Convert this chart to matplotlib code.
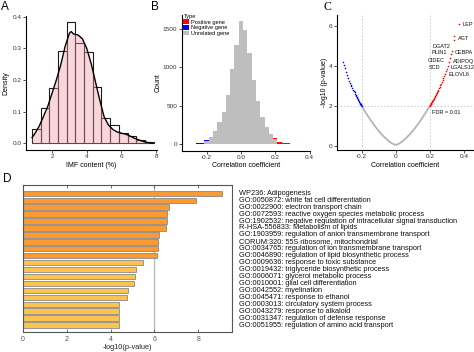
import matplotlib
matplotlib.use("Agg")
import matplotlib.pyplot as plt
from matplotlib.patches import Patch
import numpy as np

plt.rcParams['font.family'] = ['Liberation Sans', 'DejaVu Sans']

# ---------------- Panel A data ----------------
a_edges = [0.85, 1.35, 1.85, 2.35, 2.85, 3.35, 3.85, 4.35, 4.85, 5.35, 5.85, 6.35, 6.85, 7.35, 7.85]
a_density = [0.044, 0.113, 0.174, 0.293, 0.382, 0.316, 0.287, 0.179, 0.079, 0.058, 0.034, 0.023, 0.011, 0.004]
a_curve_x = [0.85, 1.0, 1.25, 1.5, 1.75, 2.0, 2.25, 2.5, 2.75, 3.0, 3.1, 3.25, 3.5, 3.75, 4.0, 4.25, 4.5,
             4.75, 5.0, 5.25, 5.5, 5.75, 6.0, 6.25, 6.5, 6.75, 7.0, 7.25, 7.5, 7.75]
a_curve_y = [0.018, 0.03, 0.053, 0.084, 0.116, 0.158, 0.2, 0.247, 0.305, 0.347, 0.353, 0.345, 0.342, 0.33, 0.3,
             0.253, 0.195, 0.137, 0.084, 0.058, 0.044, 0.036, 0.032, 0.029, 0.023, 0.016, 0.011, 0.006, 0.003, 0.001]

# ---------------- Panel B data ----------------
b_centers = [-0.300, -0.275, -0.250, -0.225, -0.200, -0.175, -0.150, -0.125, -0.100, -0.075, -0.050, -0.025,
             0.000, 0.025, 0.050, 0.075, 0.100, 0.125, 0.150, 0.175, 0.200, 0.225, 0.250, 0.275, 0.300, 0.325, 0.350]
b_unrelated = [0, 0, 0, 0, 40, 95, 170, 280, 420, 640, 980, 1290, 1600, 1480, 1180, 830, 560, 350, 215, 130, 60,
               0, 0, 0, 0, 0, 0]
b_negative = [3, 5, 9, 14, 8, 0, 0, 0, 0, 0, 0, 0, 0, 0, 0, 0, 0, 0, 0, 0, 0, 0, 0, 0, 0, 0, 0]
b_positive = [0, 0, 0, 0, 0, 0, 0, 0, 0, 0, 0, 0, 0, 0, 0, 0, 0, 0, 0, 0, 15, 28, 18, 10, 6, 3, 1]
b_types = ['Positive gene', 'Negative gene', 'Unrelated gene']
b_colors = ['#FF0000', '#0000FF', '#BEBEBE']

# ---------------- Panel C data ----------------
c_grey_r = [-0.20, -0.18, -0.16, -0.14, -0.12, -0.10, -0.08, -0.06, -0.04, -0.02, 0.0,
            0.02, 0.04, 0.06, 0.08, 0.10, 0.12, 0.14, 0.16, 0.18, 0.20]
c_grey_lp = [2.0, 1.72, 1.45, 1.2, 0.97, 0.75, 0.56, 0.39, 0.24, 0.12, 0.05,
             0.12, 0.24, 0.39, 0.56, 0.75, 0.97, 1.2, 1.45, 1.72, 2.0]
c_pos_r = [0.200, 0.202, 0.204, 0.206, 0.208, 0.210, 0.212, 0.214, 0.216, 0.218, 0.220, 0.223, 0.226, 0.229,
           0.232, 0.235, 0.238, 0.241, 0.244, 0.247, 0.250, 0.254, 0.258, 0.262, 0.266, 0.270, 0.275, 0.280,
           0.285, 0.290, 0.296, 0.302, 0.308, 0.314, 0.320, 0.326, 0.331, 0.341, 0.343, 0.372]
c_pos_lp = [2.00, 2.03, 2.06, 2.09, 2.12, 2.15, 2.18, 2.21, 2.25, 2.28, 2.31, 2.36, 2.41, 2.46,
            2.51, 2.56, 2.61, 2.66, 2.71, 2.77, 2.82, 2.90, 2.97, 3.05, 3.12, 3.20, 3.30, 3.40,
            3.50, 3.61, 3.73, 3.86, 3.99, 4.2, 4.4, 4.58, 4.75, 5.32, 5.50, 6.08]
c_neg_r = [-0.200, -0.202, -0.204, -0.206, -0.208, -0.210, -0.213, -0.216, -0.219, -0.222, -0.225, -0.228,
           -0.231, -0.234, -0.238, -0.242, -0.246, -0.250, -0.255, -0.260, -0.265, -0.270, -0.276, -0.282,
           -0.288, -0.294, -0.300, -0.306, -0.311]
c_neg_lp = [2.0, 2.03, 2.06, 2.09, 2.12, 2.15, 2.20, 2.25, 2.30, 2.34, 2.39, 2.44,
            2.49, 2.54, 2.61, 2.68, 2.74, 2.82, 2.90, 2.98, 3.07, 3.16, 3.27, 3.38,
            3.55, 3.70, 3.88, 4.05, 4.22]
c_genes = ['LEP', 'AGT', 'DGAT2', 'PLIN1', 'CIDEC', 'SCD', 'CEBPA', 'ADIPOQ', 'LGALS12', 'ELOVL6']
c_gene_x = [0.394, 0.367, 0.320, 0.302, 0.290, 0.262, 0.349, 0.335, 0.320, 0.308]
c_gene_y = [6.1, 5.38, 5.0, 4.67, 4.25, 3.92, 4.67, 4.25, 3.92, 3.55]
c_gene_ha = ['left', 'left', 'right', 'right', 'right', 'right', 'left', 'left', 'left', 'left']

# ---------------- Panel D data ----------------
d_terms = ['WP236: Adipogenesis',
           'GO:0050872: white fat cell differentiation',
           'GO:0022900: electron transport chain',
           'GO:0072593: reactive oxygen species metabolic process',
           'GO:1902532: negative regulation of intracellular signal transduction',
           'R-HSA-556833: Metabolism of lipids',
           'GO:1903959: regulation of anion transmembrane transport',
           'CORUM:320: 55S ribosome, mitochondrial',
           'GO:0034765: regulation of ion transmembrane transport',
           'GO:0046890: regulation of lipid biosynthetic process',
           'GO:0009636: response to toxic substance',
           'GO:0019432: triglyceride biosynthetic process',
           'GO:0006071: glycerol metabolic process',
           'GO:0010001: glial cell differentiation',
           'GO:0042552: myelination',
           'GO:0045471: response to ethanol',
           'GO:0003013: circulatory system process',
           'GO:0043279: response to alkaloid',
           'GO:0031347: regulation of defense response',
           'GO:0051955: regulation of amino acid transport']
d_values = [9.07, 7.9, 6.66, 6.58, 6.56, 6.54, 6.23, 6.18, 6.15, 6.1,
            5.47, 5.15, 5.13, 5.06, 4.81, 4.75, 4.4, 4.37, 4.37, 4.37]
d_colors = ['#F99A33'] * 10 + ['#FDC352'] * 10

W, H = 474, 352
fig = plt.figure(figsize=(W / 100, H / 100), dpi=100)


def add_ax(l, t, r, b):
    return fig.add_axes([l / W, 1 - b / H, (r - l) / W, (b - t) / H])


TICK = 4.6
LAB = 5.0


def classic(ax):
    for s in ['top', 'right']:
        ax.spines[s].set_visible(False)
    for s in ['left', 'bottom']:
        ax.spines[s].set_linewidth(0.8)
        ax.spines[s].set_color('black')
    ax.tick_params(length=2, width=0.6, pad=1.2, labelsize=TICK, colors='#333333')


# ---------------- Panel A ----------------
axA = add_ax(26, 16, 157, 150)
classic(axA)
widths = np.diff(a_edges)
axA.bar(a_edges[:-1], a_density, width=widths, align='edge', facecolor='none',
        edgecolor='#1a1a1a', linewidth=0.8, zorder=2)
axA.fill_between(a_curve_x, a_curve_y, 0, color='#F299A5', alpha=0.4, linewidth=0, zorder=3)
axA.plot(a_curve_x, a_curve_y, color='black', linewidth=1.0, zorder=4)
axA.set_xlim(0.5, 8.05)
axA.set_ylim(-0.021, 0.402)
axA.set_xticks([2, 4, 6, 8])
axA.set_yticks([0.0, 0.1, 0.2, 0.3, 0.4])
axA.set_yticklabels(['0.0', '0.1', '0.2', '0.3', '0.4'])
axA.set_xlabel('IMF content (%)', fontsize=LAB, labelpad=1.5)
axA.set_ylabel('Density', fontsize=LAB, labelpad=2)

# ---------------- Panel B ----------------
axB = add_ax(181.7, 15, 309.6, 150.7)
classic(axB)
bw = 0.025
bottom = np.zeros(len(b_centers))
for name, vals, col in [('Unrelated gene', b_unrelated, b_colors[2]),
                        ('Negative gene', b_negative, b_colors[1]),
                        ('Positive gene', b_positive, b_colors[0])]:
    axB.bar(b_centers, vals, width=bw, bottom=bottom, color=col, linewidth=0, zorder=2)
    bottom = bottom + np.array(vals)
axB.set_xlim(-0.345, 0.40)
axB.set_ylim(-87, 1676)
axB.set_xticks([-0.2, 0.0, 0.2, 0.4])
axB.set_xticklabels(['-0.2', '0.0', '0.2', '0.4'])
axB.set_yticks([0, 500, 1000, 1500])
axB.set_xlabel('Correlation coefficient', fontsize=LAB, labelpad=1.5)
axB.set_ylabel('Count', fontsize=LAB, labelpad=1)
handles = [Patch(facecolor=c, edgecolor='none', label=t) for t, c in zip(b_types, b_colors)]
leg = axB.legend(handles=handles, title='Type', loc='upper left', bbox_to_anchor=(0.0, 1.02),
                 fontsize=4.1, title_fontsize=4.1, frameon=False, handlelength=0.9, handleheight=0.9,
                 handletextpad=0.4, labelspacing=0.05, borderpad=0.2, borderaxespad=0.1)
leg._legend_box.align = 'left'

# ---------------- Panel C ----------------
axC = add_ax(337, 15, 474, 150)
classic(axC)
dash = dict(color='#C8C8C8', linestyle=(0, (2, 2)), linewidth=0.6, zorder=1)
axC.axvline(-0.2, **dash)
axC.axvline(0.2, **dash)
axC.axhline(2, **dash)
axC.plot(c_grey_r, c_grey_lp, color='#B5B5B5', linewidth=1.3, zorder=2, solid_capstyle='round')
axC.scatter(c_pos_r, c_pos_lp, s=1.3, color='#FF0000', linewidths=0, zorder=3)
axC.scatter(c_neg_r, c_neg_lp, s=1.3, color='#0000FF', linewidths=0, zorder=3)
for g, gx, gy, ha in zip(c_genes, c_gene_x, c_gene_y, c_gene_ha):
    axC.text(gx, gy, g, fontsize=4.0, ha=ha, va='center', color='#111111', clip_on=False)
axC.text(0.215, 1.7, 'FDR = 0.01', fontsize=4.0, ha='left', va='center', color='#111111')
axC.set_xlim(-0.345, 0.46)
axC.set_ylim(-0.2, 6.55)
axC.set_xticks([-0.2, 0.0, 0.2, 0.4])
axC.set_xticklabels(['-0.2', '0', '0.2', '0.4'])
axC.set_yticks([0, 2, 4, 6])
axC.set_xlabel('Correlation coefficient', fontsize=LAB, labelpad=1.5)
axC.set_ylabel('-log10 (p-value)', fontsize=LAB, labelpad=1)

# ---------------- Panel D ----------------
axD = add_ax(22.7, 185, 231.7, 332.3)
rows = np.arange(len(d_terms))
axD.axvline(6, color='#BDBDBD', linewidth=1.0, zorder=0)
axD.barh(rows, d_values, height=0.78, color=d_colors, edgecolor='#8A8A8A', linewidth=0.6, zorder=2)
axD.set_xlim(0, 9.52)
axD.set_ylim(len(d_terms) - 1 + 1.05, -1.2)
axD.set_yticks([])
axD.set_xticks([0, 2, 4, 6, 8])
for s in axD.spines.values():
    s.set_color('#555555')
    s.set_linewidth(0.8)
axD.tick_params(axis='x', which='both', direction='in', top=True, bottom=True, length=2, width=0.6,
                labelsize=5.0, colors='#555555', pad=2.5)
axD.set_xlabel('-log10(p-value)', fontsize=5.3, labelpad=1, color='#222222')
for i, t in enumerate(d_terms):
    axD.text(1.035, i, t, transform=axD.get_yaxis_transform(), fontsize=5.3, ha='left', va='center',
             color='#111111', clip_on=False)

# ---------------- Panel letters ----------------
fig.text(5 / W, 1 - 7 / H, 'A', fontsize=8.5, ha='center', va='center')
fig.text(155 / W, 1 - 7 / H, 'B', fontsize=8.5, ha='center', va='center')
fig.text(327 / W, 1 - 7 / H, 'C', fontsize=8.5, ha='center', va='center', family='Liberation Serif')
fig.text(7 / W, 1 - 179 / H, 'D', fontsize=8.5, ha='center', va='center')

fig.savefig('out.png', dpi=100)
